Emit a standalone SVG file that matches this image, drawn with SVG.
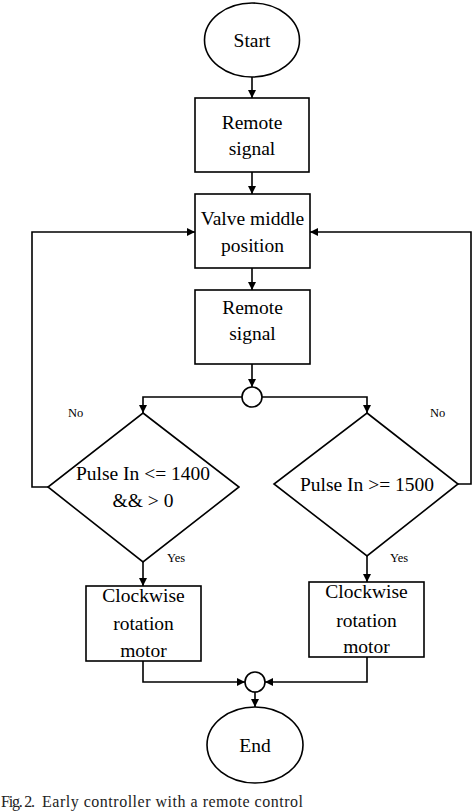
<svg xmlns="http://www.w3.org/2000/svg" width="474" height="812" viewBox="0 0 474 812">
<style>
.s{fill:#fff;stroke:#000;stroke-width:1.6}
.c{fill:none;stroke:#000;stroke-width:1.6}
.t{font-family:"Liberation Serif","Times New Roman",serif;font-size:19.5px;fill:#000;text-anchor:middle}
.l{font-family:"Liberation Serif","Times New Roman",serif;font-size:12.5px;fill:#000}
.cap{font-family:"Liberation Serif","Times New Roman",serif;font-size:16px;fill:#222}
</style>
<defs>
<marker id="a" viewBox="0 0 10 10" refX="10" refY="5" markerWidth="8" markerHeight="8" markerUnits="userSpaceOnUse" orient="auto">
<path d="M0,0 L10,5 L0,10 z" fill="#000"/>
</marker>
</defs>
<rect width="474" height="812" fill="#fff"/>
<g id="connectors">
<path class="c" d="M252,77 V98" marker-end="url(#a)"/>
<path class="c" d="M252,172 V194" marker-end="url(#a)"/>
<path class="c" d="M252,268 V290" marker-end="url(#a)"/>
<path class="c" d="M252,364 V387" marker-end="url(#a)"/>
<path class="c" d="M242,397 H143 V413" marker-end="url(#a)"/>
<path class="c" d="M262,397 H367 V413" marker-end="url(#a)"/>
<path class="c" d="M48,487 H32 V232 H195" marker-end="url(#a)"/>
<path class="c" d="M458,484 H471 V232 H310" marker-end="url(#a)"/>
<path class="c" d="M143,562 V586" marker-end="url(#a)"/>
<path class="c" d="M367,556 V582" marker-end="url(#a)"/>
<path class="c" d="M143,661 V682 H245" marker-end="url(#a)"/>
<path class="c" d="M367,657 V682 H265" marker-end="url(#a)"/>
<path class="c" d="M255,692 V707" marker-end="url(#a)"/>
<text class="l" x="68" y="417">No</text>
<text class="l" x="430" y="417">No</text>
<text class="l" x="167" y="562">Yes</text>
<text class="l" x="390" y="562">Yes</text>
</g>
<g id="start">
<ellipse class="s" cx="252" cy="40" rx="47.5" ry="37"/>
<text class="t" x="252" y="47">Start</text>
</g>
<g id="remote1">
<rect class="s" x="195" y="98" width="114" height="74"/>
<text class="t" x="252" y="129">Remote</text>
<text class="t" x="252" y="155">signal</text>
</g>
<g id="valve">
<rect class="s" x="195" y="194" width="115" height="74"/>
<text class="t" x="252.5" y="225">Valve middle</text>
<text class="t" x="252.5" y="252">position</text>
</g>
<g id="remote2">
<rect class="s" x="195" y="290" width="115" height="74"/>
<text class="t" x="252.5" y="314">Remote</text>
<text class="t" x="252.5" y="340">signal</text>
</g>
<g id="junction1">
<circle class="s" cx="252" cy="397" r="10"/>
</g>
<g id="decision1">
<path class="s" d="M143,413 L239,487 L143,562 L48,487 z"/>
<text class="t" x="143" y="480">Pulse In &lt;= 1400</text>
<text class="t" x="143" y="507">&amp;&amp; &gt; 0</text>
</g>
<g id="decision2">
<path class="s" d="M367,413 L458,484 L367,556 L274,484 z"/>
<text class="t" x="367" y="491">Pulse In &gt;= 1500</text>
</g>
<g id="motor1">
<rect class="s" x="86" y="586" width="115" height="75"/>
<text class="t" x="143.5" y="602">Clockwise</text>
<text class="t" x="143.5" y="630">rotation</text>
<text class="t" x="143.5" y="657">motor</text>
</g>
<g id="motor2">
<rect class="s" x="309" y="582" width="115" height="75"/>
<text class="t" x="366.5" y="598">Clockwise</text>
<text class="t" x="366.5" y="627">rotation</text>
<text class="t" x="366.5" y="653">motor</text>
</g>
<g id="junction2">
<circle class="s" cx="255" cy="682" r="10"/>
</g>
<g id="end">
<ellipse class="s" cx="255" cy="745" rx="48" ry="38"/>
<text class="t" x="255" y="752">End</text>
</g>
<text class="cap" x="1" y="807" textLength="34">Fig. 2.</text>
<text class="cap" x="42" y="807" textLength="261">Early controller with a remote control</text>
</svg>
